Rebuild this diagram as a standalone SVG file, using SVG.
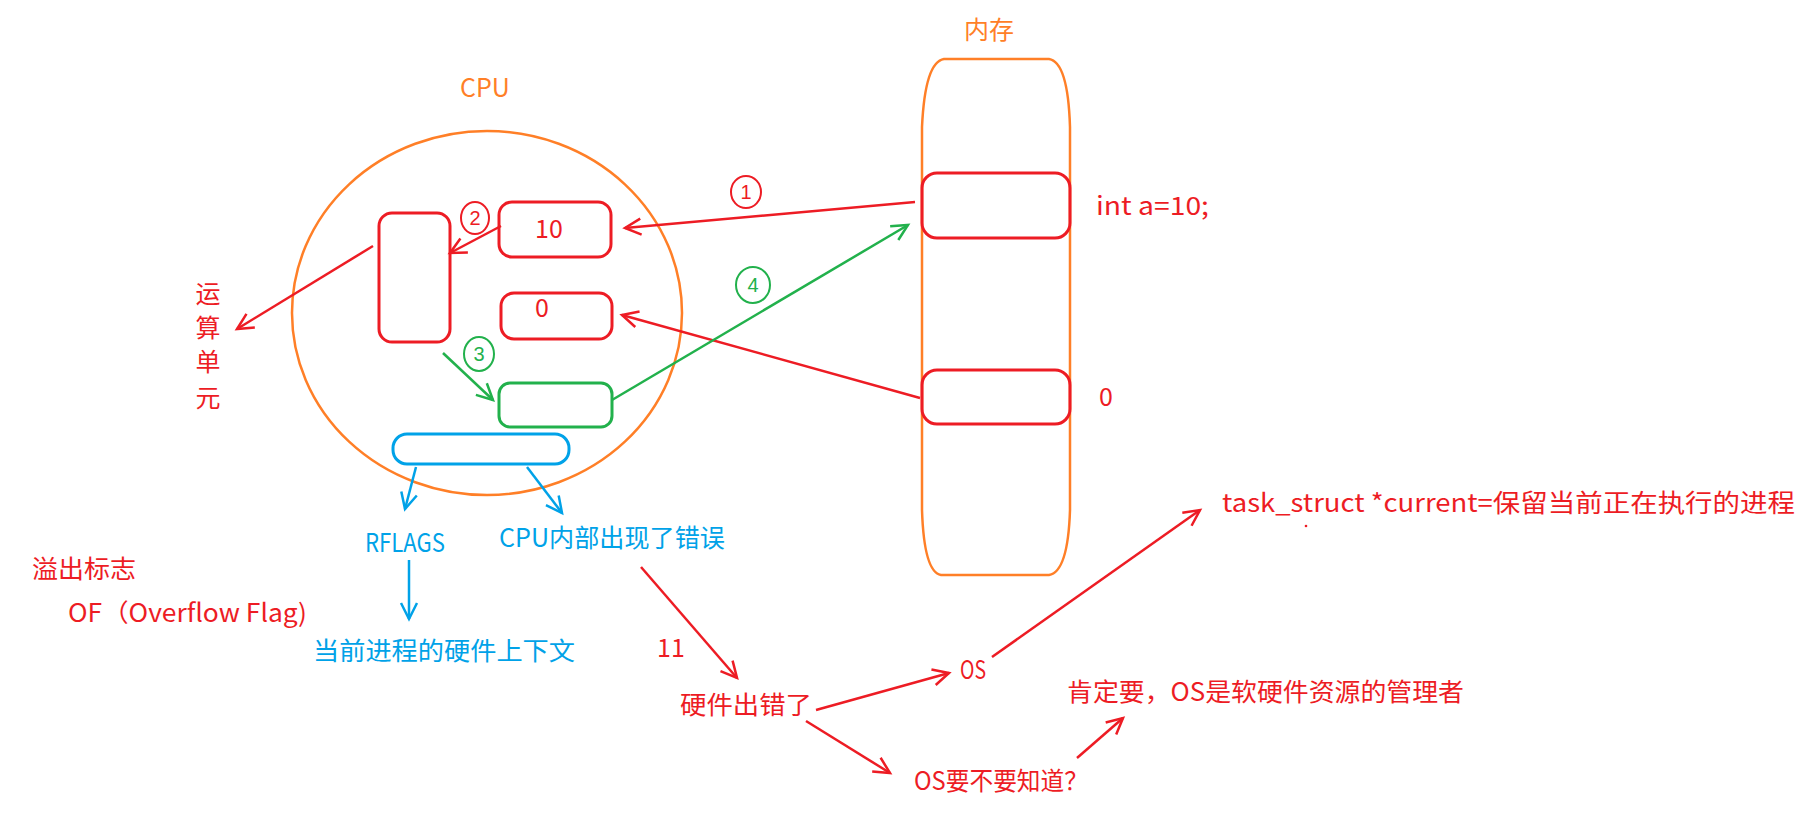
<svg xmlns="http://www.w3.org/2000/svg" width="1816" height="821" viewBox="0 0 1816 821">
<style>
  .t { font-family: "Noto Sans CJK SC", "Liberation Sans", sans-serif; font-size: 25px; }
  .red { fill: #ED1C24; }
  .blue { fill: #00A2E8; }
  .orange { fill: #FF7F27; }
  .green { fill: #22B14C; }
  .box-r { fill: none; stroke: #ED1C24; stroke-width: 3; }
  .box-g { fill: none; stroke: #22B14C; stroke-width: 3; }
  .box-b { fill: none; stroke: #00A2E8; stroke-width: 3; }
  .box-o { fill: none; stroke: #FF7F27; stroke-width: 2.5; }
  .ln-r { fill: none; stroke: #ED1C24; stroke-width: 2.5; marker-end: url(#ar-r); }
  .ln-g { fill: none; stroke: #22B14C; stroke-width: 2.5; marker-end: url(#ar-g); }
  .ln-b { fill: none; stroke: #00A2E8; stroke-width: 2.5; marker-end: url(#ar-b); }
  .num { font-family: "Liberation Sans", sans-serif; font-size: 20px; text-anchor: middle; }
</style>
<defs>
  <marker id="ar-r" markerUnits="userSpaceOnUse" markerWidth="40" markerHeight="40" refX="0" refY="0" viewBox="-20 -20 40 40" orient="auto">
    <path d="M -16,-8 L 0,0 L -16,8" fill="none" stroke="#ED1C24" stroke-width="2.5"/>
  </marker>
  <marker id="ar-g" markerUnits="userSpaceOnUse" markerWidth="40" markerHeight="40" refX="0" refY="0" viewBox="-20 -20 40 40" orient="auto">
    <path d="M -16,-8 L 0,0 L -16,8" fill="none" stroke="#22B14C" stroke-width="2.5"/>
  </marker>
  <marker id="ar-b" markerUnits="userSpaceOnUse" markerWidth="40" markerHeight="40" refX="0" refY="0" viewBox="-20 -20 40 40" orient="auto">
    <path d="M -16,-8 L 0,0 L -16,8" fill="none" stroke="#00A2E8" stroke-width="2.5"/>
  </marker>
</defs>
<rect width="1816" height="821" fill="#FFFFFF"/>

<g id="cpu">
  <text class="t orange" x="485" y="97" text-anchor="middle" font-size="22">CPU</text>
  <ellipse cx="487" cy="313" rx="195" ry="182" class="box-o"/>
</g>
<g id="alu">
  <rect x="379" y="213" width="71" height="129" rx="13" class="box-r"/>
</g>
<g id="alu-label">
  <text class="t red" x="208" y="303" text-anchor="middle" font-size="23">运</text>
  <text class="t red" x="208" y="337" text-anchor="middle" font-size="23">算</text>
  <text class="t red" x="208" y="371" text-anchor="middle" font-size="23">单</text>
  <text class="t red" x="208" y="407" text-anchor="middle" font-size="23">元</text>
</g>
<g id="reg10">
  <rect x="499" y="202" width="112" height="55" rx="13" class="box-r"/>
  <text class="t red" x="549" y="238" text-anchor="middle" font-size="22">10</text>
</g>
<g id="reg0">
  <rect x="501" y="293" width="111" height="46" rx="13" class="box-r"/>
  <text class="t red" x="542" y="317" text-anchor="middle" font-size="22">0</text>
</g>
<g id="reg-green">
  <rect x="499" y="383" width="113" height="44" rx="11" class="box-g"/>
</g>
<g id="rflags-reg">
  <rect x="393" y="434" width="176" height="30" rx="14" class="box-b"/>
</g>
<g id="step1">
  <ellipse cx="746" cy="192" rx="15" ry="16" fill="none" stroke="#ED1C24" stroke-width="2"/>
  <text class="num red" x="746" y="199">1</text>
</g>
<g id="step2">
  <ellipse cx="475" cy="218" rx="14" ry="16" fill="none" stroke="#ED1C24" stroke-width="2"/>
  <text class="num red" x="475" y="225">2</text>
</g>
<g id="step3">
  <ellipse cx="479" cy="354" rx="15" ry="17" fill="none" stroke="#22B14C" stroke-width="2"/>
  <text class="num green" x="479" y="361">3</text>
</g>
<g id="step4">
  <ellipse cx="753" cy="285" rx="17" ry="18" fill="none" stroke="#22B14C" stroke-width="2"/>
  <text class="num green" x="753" y="292">4</text>
</g>

<g id="memory">
  <text class="t orange" x="989" y="39" text-anchor="middle" font-size="26">内存</text>
  <path d="M 944,59 L 1049,59 Q 1068,62 1070,127 L 1070,510 Q 1068,572 1049,575 L 941,575 Q 924,572 922,510 L 922,127 Q 925,62 944,59 Z" class="box-o"/>
</g>
<g id="mem-a">
  <rect x="922" y="173" width="148" height="65" rx="15" class="box-r"/>
  <text class="t red" x="1096" y="215" font-size="22" textLength="113" lengthAdjust="spacingAndGlyphs">int a=10;</text>
</g>
<g id="mem-0">
  <rect x="922" y="370" width="148" height="54" rx="15" class="box-r"/>
  <text class="t red" x="1099" y="406" font-size="22">0</text>
</g>

<g id="label-rflags">
  <text class="t blue" x="405" y="552" text-anchor="middle" font-size="23" textLength="80" lengthAdjust="spacingAndGlyphs">RFLAGS</text>
</g>
<g id="label-cpuerr">
  <text class="t blue" x="499" y="547" textLength="226" lengthAdjust="spacingAndGlyphs">CPU内部出现了错误</text>
</g>
<g id="label-context">
  <text class="t blue" x="313" y="660" textLength="262" lengthAdjust="spacingAndGlyphs">当前进程的硬件上下文</text>
</g>
<g id="label-overflow">
  <text class="t red" x="32" y="578" textLength="104" lengthAdjust="spacingAndGlyphs">溢出标志</text>
  <text class="t red" x="68" y="622" textLength="239" lengthAdjust="spacingAndGlyphs">OF（Overflow Flag)</text>
</g>
<g id="label-11">
  <text class="t red" x="657" y="657" font-size="21">11</text>
</g>
<g id="label-hwerr">
  <text class="t red" x="680" y="714" textLength="132" lengthAdjust="spacingAndGlyphs">硬件出错了</text>
</g>
<g id="label-os">
  <text class="t red" x="960" y="679" font-size="22" textLength="26" lengthAdjust="spacingAndGlyphs">OS</text>
</g>
<g id="label-task">
  <text class="t red" x="1222" y="512" textLength="573" lengthAdjust="spacingAndGlyphs">task_struct *current=保留当前正在执行的进程</text>
  <circle cx="1306" cy="526" r="1.3" fill="#ED1C24"/>
</g>
<g id="label-must">
  <text class="t red" x="1067" y="701" textLength="397" lengthAdjust="spacingAndGlyphs">肯定要，OS是软硬件资源的管理者</text>
</g>
<g id="label-ask">
  <text class="t red" x="914" y="790" textLength="174" lengthAdjust="spacingAndGlyphs">OS要不要知道？</text>
</g>

<g id="connectors">
  <line x1="915" y1="202" x2="625" y2="228" class="ln-r" stroke-width="3"/>
  <line x1="501" y1="226" x2="450" y2="253" class="ln-r"/>
  <line x1="373" y1="246" x2="237" y2="329" class="ln-r"/>
  <line x1="920" y1="398" x2="622" y2="315" class="ln-r" stroke-width="3"/>
  <line x1="443" y1="353" x2="493" y2="400" class="ln-g"/>
  <line x1="612" y1="400" x2="908" y2="225" class="ln-g"/>
  <line x1="416" y1="467" x2="405" y2="509" class="ln-b"/>
  <line x1="527" y1="467" x2="562" y2="513" class="ln-b"/>
  <line x1="409" y1="560" x2="409" y2="619" class="ln-b"/>
  <line x1="641" y1="567" x2="737" y2="678" class="ln-r"/>
  <line x1="816" y1="710" x2="949" y2="673" class="ln-r"/>
  <line x1="806" y1="721" x2="890" y2="773" class="ln-r"/>
  <line x1="992" y1="657" x2="1200" y2="510" class="ln-r"/>
  <line x1="1077" y1="758" x2="1123" y2="718" class="ln-r"/>
</g>
</svg>
